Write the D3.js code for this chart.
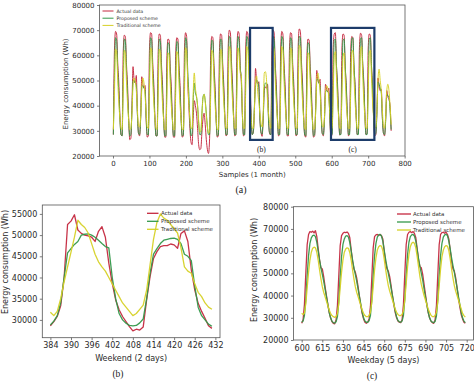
<!DOCTYPE html>
<html><head><meta charset="utf-8">
<script src="https://cdn.jsdelivr.net/npm/d3@7"></script>
<style>body{margin:0;background:#fff}svg{display:block}</style>
</head><body>
<svg id="chart" width="474" height="382"></svg>
<script>
// ---------------- DATA ----------------
const seriesNames = ["Actual data", "Proposed scheme", "Traditional scheme"];
const seriesColors = ["#c4283e", "#33984a", "#d6d126"];

// Overview (a): one value every 3 samples, samples 1,4,7,...,763
const overviewSamples = d3.range(1, 764, 3);
const actualOverview = [
28500,62000,69500,68500,57000,49000,36000,28500,
28000,61000,68000,67500,56500,48000,35000,26500,
27000,40000,55500,50000,49000,52000,37000,29000,
28000,36000,51500,48500,47000,48000,34500,27500,
28000,62000,69000,68500,57000,48500,35500,28000,
28000,61500,68500,68000,56500,48000,35000,27500,
27500,60000,66500,66000,55500,47500,35000,27500,
27500,60500,67000,66500,56000,48000,35000,27500,
28000,62000,69000,67500,50000,40000,31000,25500,
24500,35000,42000,40000,37000,31000,24500,22500,
23000,29500,35000,37000,32500,26500,22500,21000,
27000,60500,67500,67000,56000,47500,35000,27500,
28000,61500,68500,68000,56500,48000,35500,28000,
28500,63000,70000,69000,57500,48500,36000,28000,
28500,62500,69500,68500,56000,49500,36000,28000,
28500,62500,69500,68500,57000,48500,36000,28500,
29500,38600,54800,50000,48700,49500,34700,29600,
27800,34700,46100,47500,46900,48500,33900,28600,
28500,63000,70000,69000,57000,48500,36000,28000,
28500,62500,69500,68500,57000,48500,36000,28000,
28000,62000,69000,68500,56500,48500,35500,28000,
28500,63500,70500,69500,57500,49000,36000,28000,
27500,60000,66500,66000,55500,47500,35000,27500,
28000,40000,54000,50000,49000,50500,37000,29000,
28000,35000,48500,46500,45500,47000,34000,27500,
29000,63000,68500,69000,56000,48500,36000,28300,
29000,62500,68500,68000,55500,48000,35500,28000,
29500,61500,67500,67000,55000,48500,36000,28500,
29000,63000,68800,68000,56500,49500,36500,28500,
29000,62500,68500,68000,56000,48000,35500,28000,
28500,38000,51000,47500,46000,46500,35000,29000,
28000,35000,46000,43500,42500,40000,30000];
const proposedOverview = [
28500,52000,67000,66000,54000,45000,34500,28500,
28000,51000,66500,65500,54000,44500,34000,28000,
28500,38000,50000,50000,49000,48000,36500,29000,
28500,35000,47500,48000,47000,46000,35000,28500,
28500,52000,67000,66000,54000,45000,34500,28000,
28000,51500,66500,65500,54000,44500,34000,28000,
28000,50500,65000,64500,53000,44000,34000,28000,
28000,51000,65500,65000,53500,44500,34000,28000,
28500,52000,67000,65500,54000,45000,34000,28000,
29000,42000,49000,45000,43500,40000,33000,28500,
28500,37000,43500,44500,42000,37000,31500,28500,
28500,51000,66000,65500,53500,44500,34000,28000,
28500,52000,66500,66000,54000,45000,34500,28500,
28500,52500,67500,66500,54500,45000,34500,28500,
28500,52000,67500,65500,55000,51000,36000,28500,
28500,52500,67500,66500,54500,45000,34500,28500,
29700,40000,47800,50200,49500,47300,35000,29200,
28700,35000,46800,49000,49000,45000,33000,29000,
28500,52500,67500,66500,54500,45000,34500,28500,
28500,52500,67500,66500,54500,45000,34500,28500,
28500,52000,67000,66000,54000,45000,34500,28500,
28500,52500,67500,67000,54500,45500,34500,28500,
28000,50500,65000,64500,53000,44000,34000,28000,
28500,38000,50500,50500,49000,47500,36000,29000,
28500,34000,45500,46000,45500,45000,34500,28500,
28500,49000,66000,66500,56000,46500,36000,28500,
28500,49000,66000,66500,56000,46500,36000,28500,
28500,49500,66500,67000,56500,47000,36000,28500,
28500,49500,66500,67000,56500,47500,36000,28500,
28500,49000,66500,67000,56000,46500,35500,28500,
29000,37000,49500,48500,47000,45000,35000,29000,
28500,34000,44500,44000,43500,38000,30500];
const traditionalOverview = [
30500,45000,62500,61000,50000,41000,35000,31000,
30500,45000,62000,60500,49500,40500,34500,30500,
31000,37000,48000,51000,49500,46000,38000,32000,
31500,36000,46500,51000,49000,44000,37000,31500,
31000,45500,63000,61500,50000,41000,35000,31000,
30500,45000,62500,61000,49500,40500,34500,30500,
30500,44000,61000,60000,49000,40000,34500,30500,
30500,44500,61500,60500,49000,40000,34500,30500,
30500,45000,63000,61000,50000,41000,35000,31000,
31000,45000,53000,47000,44000,40000,34000,29500,
30000,37000,43000,44500,41500,36000,31500,29000,
30000,44000,62000,61000,49500,40500,34500,30500,
30500,45000,62500,61000,50000,41000,35000,31000,
31000,45500,63500,62000,50500,41500,35000,31000,
31000,45500,63000,60000,53000,52000,37000,31000,
31000,45500,63500,62000,50500,41500,35000,31000,
31000,39000,49500,51800,45500,41500,37000,33000,
31500,37000,53000,53500,50500,41500,36500,33000,
31000,45500,63500,62000,50500,41500,35000,31000,
31000,45500,63500,62000,50500,41500,35000,31000,
31000,45000,63000,61500,50000,41000,35000,31000,
31000,46000,64000,62500,50500,41500,35000,31000,
30500,44000,61000,60000,49000,40000,34500,30500,
31000,37500,50000,53000,50000,46000,38000,32000,
31500,35000,45000,48000,47000,43000,36500,31500,
31000,44000,60000,61500,51500,41500,35500,31000,
31000,43500,59500,61000,51000,41000,35000,31000,
31000,44500,61000,62000,51500,41500,35500,31000,
31000,45000,62000,63500,52000,42000,35500,31000,
31000,44500,61000,62000,51500,41500,35000,31000,
31500,38000,50500,54500,50000,46000,38000,32000,
31000,36000,46000,48500,46000,40000,32500];
const overviewTicksX = [0,100,200,300,400,500,600,700,800];
const overviewTicksY = [20000,30000,40000,50000,60000,70000,80000];
const zoomBoxB = [376, 438];
const zoomBoxC = [598, 717];
const zoomBoxY = [26400, 70900];

// (b) weekend, samples 384..431
const samplesB = d3.range(384, 432);
const actualB = [28600,29600,30800,33300,40000,52500,53300,54800,51200,50400,50000,49800,49500,48500,50900,52000,49500,43400,38600,34700,32400,30800,29600,28400,
27400,27800,27600,28300,34700,40200,44500,46100,47300,47500,47500,47900,47700,46900,50400,51000,48500,41800,37100,33900,32000,30400,28600,28000];
const proposedB = [28800,29700,31000,34000,40000,45800,46800,47800,48500,50000,50200,50300,50000,49500,48800,48000,47300,47000,40000,35000,31500,30000,29200,28700,
28600,28700,29300,30200,35000,41000,45500,46800,48000,48800,49000,49200,49300,49000,48000,45500,45000,44000,38000,33000,31000,30000,29000,28500];
const traditionalB = [31800,31000,32000,35000,39000,42500,46000,49500,53500,52500,51800,50500,48000,45500,43700,42500,41500,40000,38500,37000,35500,34000,33000,32000,
31000,31500,32500,33500,37000,43000,49000,53000,55000,54000,53500,52500,51500,50500,47000,42500,41500,41000,38500,36500,35500,34000,33000,32500];
const ticksBX = [384,390,396,402,408,414,420,426,432];
const ticksBY = [30000,35000,40000,45000,50000,55000];

// (c) weekday, samples 600..719
const samplesC = d3.range(600, 720);
const actualC = [
27500,29000,36000,50000,63000,67500,68800,68500,69000,68200,69200,66500,61000,56000,52500,52000,48500,44000,40000,36000,32500,30000,28300,27500,
27300,29000,35500,49000,62500,67000,68000,68500,68300,68600,68000,66000,60500,55500,52000,50500,48000,44000,39500,35500,32000,29500,28000,27500,
28000,29500,35000,48000,61500,66500,67300,67500,67000,67500,67000,65500,60000,55000,52000,51000,48500,44500,40000,36000,32500,30000,28500,28000,
27800,29000,36000,50000,63000,67500,68500,68800,68300,68800,68000,66000,61000,56000,53000,52500,49500,45000,40500,36000,32500,30000,28500,27800,
27500,29000,35500,49500,63000,67500,68300,68500,68000,68500,67500,65500,60500,55500,52000,51000,48000,43500,39000,35000,31500,29500,28000,27500];
const proposedC = [
28000,28500,31000,38000,49000,58000,63500,66000,67000,67200,66500,64000,60000,56000,52500,49500,46500,43000,39500,36000,32500,30000,28500,27800,
27600,28200,30500,37500,48500,57500,63000,65500,66800,67000,66300,63800,60000,56000,52500,49500,46500,43000,39500,36000,32500,30000,28500,28000,
28000,28600,31000,38000,49000,58000,63500,66300,67300,67500,66800,64500,60500,56500,53000,50000,47000,43500,40000,36500,33000,30500,28800,28200,
28000,28500,31000,38500,49500,58500,64000,66500,67300,67500,66800,64500,60500,56500,53000,50000,47000,43000,39500,36000,32500,30000,28500,28000,
27800,28300,30800,38000,49000,58000,63500,66300,67300,67500,67000,64500,61000,57000,53500,50500,47000,43500,39500,36000,32500,30000,28500,27800];
const traditionalC = [
32000,31500,32000,36500,43500,50500,56000,59500,61300,61800,61500,59500,56000,51500,47500,44000,41500,39500,37500,35500,33500,32000,31000,30500,
30200,30500,32000,36500,43500,50500,56000,59500,61000,61500,61300,59300,56000,51500,47500,44000,41500,39500,37500,35500,33500,32000,31000,30500,
30500,31000,32500,37000,44000,51500,57000,60500,62000,62500,62300,60300,56500,52000,48000,44500,42000,40000,38000,36000,34000,32500,31500,31000,
31000,31500,33000,38000,45500,53000,58500,62000,63500,64000,63500,61500,57500,53000,48500,45000,42500,40000,38000,36000,34000,32500,31200,30500,
30500,31000,32500,37500,44500,52000,57500,60500,62000,62500,62300,60300,56500,52000,48000,44500,42000,40000,38000,36000,34000,32000,31000,30300];
const ticksCX = [600,615,630,645,660,675,690,705,720];
const ticksCY = [20000,30000,40000,50000,60000,70000,80000];

// ---------------- DRAW ----------------
const svg = d3.select("#chart");
const sans = "DejaVu Sans, sans-serif";
const serif = "Liberation Serif, Times New Roman, serif";

function panel(o) {
  const g = svg.append("g");
  const x = d3.scaleLinear().domain(o.xDomain).range(o.xRange);
  const y = d3.scaleLinear().domain(o.yDomain).range(o.yRange);
  const fmt = d3.format("d");

  const xa = g.append("g").attr("transform", `translate(0,${o.yRange[0]})`)
    .call(d3.axisBottom(x).tickValues(o.xTicks).tickFormat(fmt).tickSize(2.5).tickSizeOuter(0).tickPadding(2.5));
  const ya = g.append("g").attr("transform", `translate(${o.xRange[0]},0)`)
    .call(d3.axisLeft(y).tickValues(o.yTicks).tickFormat(fmt).tickSize(2.5).tickSizeOuter(0).tickPadding(2.5));
  [xa, ya].forEach(a => {
    a.select(".domain").remove();
    a.selectAll("line").attr("stroke", "#444").attr("stroke-width", 0.7);
    a.selectAll("text").attr("font-family", sans).attr("font-size", o.fs).attr("fill", "#2a2a2a");
  });

  const line = d3.line().x((d, i) => x(o.samples[i])).y(d => y(d)).curve(o.curve || d3.curveLinear);
  o.series.forEach((vals, k) => {
    g.append("path").datum(vals).attr("d", line)
      .attr("fill", "none").attr("stroke", seriesColors[k])
      .attr("stroke-width", o.lw).attr("stroke-linejoin", "round").attr("opacity", 0.95);
  });

  g.append("rect")
    .attr("x", o.xRange[0]).attr("y", o.yRange[1])
    .attr("width", o.xRange[1] - o.xRange[0]).attr("height", o.yRange[0] - o.yRange[1])
    .attr("fill", "none").attr("stroke", "#555").attr("stroke-width", 0.8);

  // axis titles
  g.append("text").text(o.xTitle)
    .attr("x", (o.xRange[0] + o.xRange[1]) / 2).attr("y", o.xTitleY)
    .attr("text-anchor", "middle").attr("font-family", sans).attr("font-size", o.fs).attr("fill", "#2a2a2a");
  g.append("text").text("Energy consumption (Wh)")
    .attr("transform", `translate(${o.yTitleX},${o.yTitleCY}) rotate(-90)`)
    .attr("text-anchor", "middle").attr("dominant-baseline", "central")
    .attr("font-family", sans).attr("font-size", o.fs).attr("fill", "#2a2a2a");
  // caption
  g.append("text").text(o.caption)
    .attr("x", o.capX).attr("y", o.capY).attr("text-anchor", "middle")
    .attr("font-family", serif).attr("font-size", o.capFs).attr("fill", "#222");
  // legend
  seriesNames.forEach((n, k) => {
    const yy = o.leg.y0 + k * o.leg.dy;
    g.append("line").attr("x1", o.leg.x1).attr("x2", o.leg.x2).attr("y1", yy).attr("y2", yy)
      .attr("stroke", seriesColors[k]).attr("stroke-width", o.lw);
    g.append("text").text(n).attr("x", o.leg.tx).attr("y", yy)
      .attr("dominant-baseline", "central").attr("font-family", sans)
      .attr("font-size", o.leg.fs).attr("fill", "#333");
  });
  return {g, x, y};
}

// (a) overview
const A = panel({
  xDomain: [-37, 801], xRange: [99.5, 405], yDomain: [20000, 80000], yRange: [156, 5],
  xTicks: overviewTicksX, yTicks: overviewTicksY, samples: overviewSamples,
  series: [actualOverview, proposedOverview, traditionalOverview],
  curve: d3.curveMonotoneX, lw: 1.0, fs: 7,
  xTitle: "Samples (1 month)", xTitleY: 177, yTitleX: 66, yTitleCY: 84,
  caption: "(a)", capX: 241, capY: 193, capFs: 10,
  leg: {x1: 102.5, x2: 113.5, tx: 116.5, y0: 11, dy: 7.2, fs: 4.7}
});
[[zoomBoxB, "(b)"], [zoomBoxC, "(c)"]].forEach(([b, lab]) => {
  A.g.append("rect")
    .attr("x", A.x(b[0])).attr("y", A.y(zoomBoxY[1]))
    .attr("width", A.x(b[1]) - A.x(b[0])).attr("height", A.y(zoomBoxY[0]) - A.y(zoomBoxY[1]))
    .attr("fill", "none").attr("stroke", "#1d3c6a").attr("stroke-width", 2.2);
  A.g.append("text").text(lab)
    .attr("x", A.x((b[0] + b[1]) / 2)).attr("y", A.y(zoomBoxY[0]) + 12)
    .attr("text-anchor", "middle").attr("font-family", serif).attr("font-size", 7.5).attr("fill", "#222");
});

// (b) weekend
panel({
  xDomain: [381.65, 433.35], xRange: [42.3, 220], yDomain: [25800, 57100], yRange: [337.7, 205],
  xTicks: ticksBX, yTicks: ticksBY, samples: samplesB,
  series: [actualB, proposedB, traditionalB], lw: 1.3, fs: 8,
  xTitle: "Weekend (2 days)", xTitleY: 361, yTitleX: 5, yTitleCY: 262,
  caption: "(b)", capX: 118, capY: 377, capFs: 9.5,
  leg: {x1: 147, x2: 158.5, tx: 161, y0: 213.3, dy: 8, fs: 5.5}
});

// (c) weekday
panel({
  xDomain: [594.05, 724.95], xRange: [293.5, 473.5], yDomain: [20000, 80000], yRange: [340, 206.7],
  xTicks: ticksCX, yTicks: ticksCY, samples: samplesC,
  series: [actualC, proposedC, traditionalC], lw: 1.3, fs: 8,
  xTitle: "Weekday (5 days)", xTitleY: 363, yTitleX: 254, yTitleCY: 270,
  caption: "(c)", capX: 372, capY: 379, capFs: 9.5,
  leg: {x1: 397, x2: 411, tx: 413, y0: 214, dy: 8, fs: 5.5}
});
</script>
</body></html>
